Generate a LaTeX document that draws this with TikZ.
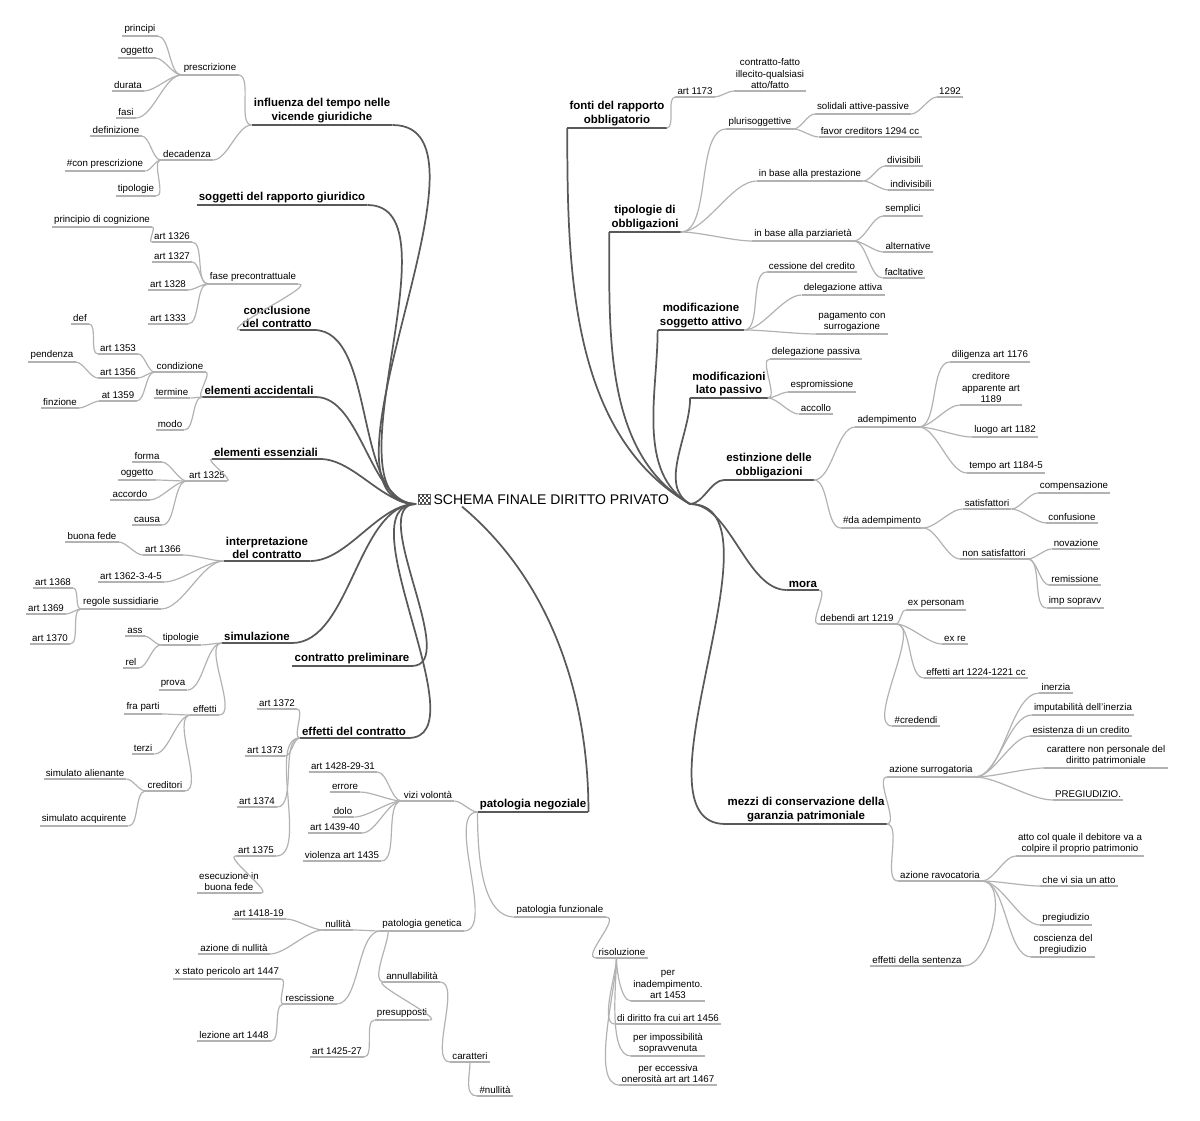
\documentclass[tikz,border=0pt]{standalone}
\usepackage{fontspec}
\setmainfont{Liberation Sans}
\begin{document}
\begin{tikzpicture}[x=0.75pt,y=-0.75pt,
 t/.style={anchor=south,font=\fontsize{7.3}{8.6}\selectfont,inner sep=1.5pt,align=center,
   append after command={(\tikzlastnode.south west) edge[sl] (\tikzlastnode.south east)}},
 m/.style={anchor=south,font=\fontsize{8.6}{10}\selectfont\bfseries,inner sep=1.5pt,align=center,
   append after command={(\tikzlastnode.south west) edge[ml] (\tikzlastnode.south east)}},
 sl/.style={draw=black!30,line width=0.9pt},
 ml/.style={draw=black!65,line width=1.3pt}]
\useasboundingbox (0,0) rectangle (1200,1121);
\newcommand{\Lc}[2]{\draw[sl] (#1.south west) to[out=180,in=0,looseness=0.7] (#2.south east);}
\newcommand{\Rc}[2]{\draw[sl] (#1.south east) to[out=0,in=180,looseness=0.7] (#2.south west);}
\newcommand{\Lm}[1]{\draw[ml] (CL) to[out=180,in=0,looseness=0.8] (#1.south east);}
\newcommand{\Rm}[1]{\draw[ml] (CR) to[out=0,in=180,looseness=0.8] (#1.south west);}
\newcommand{\Ru}[1]{\draw[ml] (CR) to[out=150,in=-90,looseness=0.9] (#1.south west);}
% center
\node[anchor=west,font=\fontsize{10.5}{12}\selectfont,inner sep=1pt] (C) at (432,500) {SCHEMA FINALE DIRITTO PRIVATO};
\coordinate (CL) at (416,504); \coordinate (CR) at (690,504);
\draw[black!60,line width=0.4pt] (418,494) rectangle (430,504);
\foreach \i in {0,1,2}{\foreach \j in {0,1}{
  \fill[black!70] (418+4*\i,494+5*\j) rectangle ++(2,2.5);
  \fill[black!70] (420+4*\i,496.5+5*\j) rectangle ++(2,2.5);}}
% ===== LEFT =====
\node[m] (inf) at (322,125) {influenza del tempo nelle\\vicende giuridiche};
\node[t] (pre) at (210,75) {prescrizione};
\node[t] (pri) at (140,36) {principi};
\node[t] (ogg) at (137,58) {oggetto};
\node[t] (dur) at (128,91) {durata};
\node[t] (fas) at (126,118) {fasi};
\node[t] (dec) at (187,160) {decadenza};
\node[t] (def) at (116,136) {definizione};
\node[t] (cpr) at (105,171) {\#con prescrizione};
\node[t] (tip) at (136,196) {tipologie};
\Lc{inf}{pre}\Lc{inf}{dec}\Lc{pre}{pri}\Lc{pre}{ogg}\Lc{pre}{dur}\Lc{pre}{fas}
\Lc{dec}{def}\Lc{dec}{cpr}\Lc{dec}{tip}
\node[m] (sog) at (282,205) {soggetti del rapporto giuridico};
\node[m] (con) at (277,330) {conclusione\\del contratto};
\node[t] (fpc) at (253,284) {fase precontrattuale};
\node[t] (a26) at (172,242) {art 1326};
\node[t] (pdc) at (102,227) {principio di cognizione};
\node[t] (a27) at (172,262) {art 1327};
\node[t] (a28) at (168,290) {art 1328};
\node[t] (a33) at (168,324) {art 1333};
\Lc{con}{fpc}\Lc{fpc}{a26}\Lc{fpc}{a27}\Lc{fpc}{a28}\Lc{fpc}{a33}\Lc{a26}{pdc}
\node[m] (eac) at (259,397) {elementi accidentali};
\node[t] (cnd) at (180,372) {condizione};
\node[t] (ter) at (172,398) {termine};
\node[t] (mod) at (170,430) {modo};
\node[t] (a53) at (118,354) {art 1353};
\node[t] (dfx) at (80,324) {def};
\node[t] (a56) at (118,378) {art 1356};
\node[t] (pen) at (52,362) {pendenza};
\node[t] (a59) at (118,401) {at 1359};
\node[t] (fin) at (60,408) {finzione};
\Lc{eac}{cnd}\Lc{eac}{ter}\Lc{eac}{mod}\Lc{cnd}{a53}\Lc{cnd}{a56}\Lc{cnd}{a59}
\Lc{a53}{dfx}\Lc{a56}{pen}\Lc{a59}{fin}
\node[m] (ees) at (266,459) {elementi essenziali};
\node[t] (a25) at (207,481) {art 1325};
\node[t] (for) at (147,462) {forma};
\node[t] (og2) at (137,480) {oggetto};
\node[t] (acc) at (130,500) {accordo};
\node[t] (cau) at (147,525) {causa};
\Lc{ees}{a25}\Lc{a25}{for}\Lc{a25}{og2}\Lc{a25}{acc}\Lc{a25}{cau}
\node[m] (int) at (267,561) {interpretazione\\del contratto};
\node[t] (a66) at (163,555) {art 1366};
\node[t] (bfe) at (92,542) {buona fede};
\node[t] (a62) at (131,582) {art 1362-3-4-5};
\node[t] (rso) at (121,609) {regole sussidiarie};
\node[t] (a68) at (53,588) {art 1368};
\node[t] (a69) at (46,614) {art 1369};
\node[t] (a70) at (50,644) {art 1370};
\Lc{int}{a66}\Lc{int}{a62}\Lc{int}{rso}\Lc{a66}{bfe}\Lc{rso}{a68}\Lc{rso}{a69}\Lc{rso}{a70}
\node[m] (sim) at (257,643) {simulazione};
\node[t] (tp2) at (181,645) {tipologie};
\node[t] (ass) at (135,636) {ass};
\node[t] (rel) at (131,668) {rel};
\node[t] (pro) at (173,690) {prova};
\node[t] (eff) at (205,715) {effetti};
\node[t] (fpa) at (143,714) {fra parti};
\node[t] (ter2) at (143,754) {terzi};
\node[t] (cre) at (165,791) {creditori};
\node[t] (sal) at (85,779) {simulato alienante};
\node[t] (saq) at (84,826) {simulato acquirente};
\Lc{sim}{tp2}\Lc{sim}{pro}\Lc{sim}{eff}\Lc{tp2}{ass}\Lc{tp2}{rel}
\Lc{eff}{fpa}\Lc{eff}{ter2}\Lc{eff}{cre}\Lc{cre}{sal}\Lc{cre}{saq}
\node[m] (cpl) at (352,666) {contratto preliminare};
\node[m] (edc) at (354,738) {effetti del contratto};
\node[t] (a72) at (277,709) {art 1372};
\node[t] (a73) at (265,756) {art 1373};
\node[t] (a74) at (257,807) {art 1374};
\node[t] (a75) at (256,856) {art 1375};
\node[t] (ebf) at (229,893) {esecuzione in\\buona fede};
\Lc{edc}{a72}\Lc{edc}{a73}\Lc{edc}{a74}\Lc{edc}{a75}\Lc{a75}{ebf}
\Lm{inf}\Lm{sog}\Lm{con}\Lm{eac}\Lm{ees}\Lm{int}\Lm{sim}\Lm{cpl}\Lm{edc}
% patologia
\node[m] (pat) at (533,812) {patologia negoziale};
\draw[ml] (C.south west) ++(30,0) to[out=-40,in=90,looseness=0.9] (pat.south east);
\node[t] (viz) at (428,801) {vizi volontà};
\node[t] (a28b) at (343,772) {art 1428-29-31};
\node[t] (err) at (345,792) {errore};
\node[t] (dol) at (343,817) {dolo};
\node[t] (a39) at (335,833) {art 1439-40};
\node[t] (vio) at (342,861) {violenza art 1435};
\Lc{pat}{viz}\Lc{viz}{a28b}\Lc{viz}{err}\Lc{viz}{dol}\Lc{viz}{a39}\Lc{viz}{vio}
\node[t] (pge) at (422,931) {patologia genetica};
\node[t] (nul) at (338,930) {nullità};
\node[t] (a18) at (259,919) {art 1418-19};
\node[t] (adn) at (234,954) {azione di nullità};
\node[t] (ann) at (412,982) {annullabilità};
\node[t] (res) at (310,1004) {rescissione};
\node[t] (xsp) at (227,979) {x stato pericolo art 1447};
\node[t] (lez) at (234,1041) {lezione art 1448};
\node[t] (psp) at (402,1020) {presupposti};
\node[t] (a25b) at (337,1057) {art 1425-27};
\node[t] (car) at (470,1062) {caratteri};
\node[t] (hnu) at (495,1096) {\#nullità};
\Lc{pat}{pge}\Lc{pge}{nul}\Lc{nul}{a18}\Lc{nul}{adn}\Lc{pge}{res}\Lc{res}{xsp}\Lc{res}{lez}
\draw[sl] (pge.south west) ++(8,0) to[out=-90,in=180,looseness=0.7] (ann.south west);
\Lc{ann}{psp}\Lc{psp}{a25b}\draw[sl] (ann.south east) to[out=0,in=180,looseness=0.7] (car.south west);
\draw[sl] (car.south) to[out=-90,in=180] (hnu.south west);
\node[t] (pfu) at (560,917) {patologia funzionale};
\draw[sl] (pat.south west) to[out=-90,in=180,looseness=0.8] (pfu.south west);
\node[t] (ris) at (622,958) {risoluzione};
\draw[sl] (pfu.south east) to[out=0,in=180] (ris.south west);
\node[t] (pin) at (668,1001) {per\\inadempimento.\\art 1453};
\node[t] (ddf) at (668,1024) {di diritto fra cui art 1456};
\node[t] (pim) at (668,1056) {per impossibilità\\sopravvenuta};
\node[t] (peo) at (668,1085) {per eccessiva\\onerosità art art 1467};
\foreach \n in {pin,ddf,pim,peo}{\draw[sl] (ris.south west) ++(20,0) to[out=-90,in=180,looseness=0.6] (\n.south west);}
% ===== RIGHT =====
\node[m] (fon) at (617,128) {fonti del rapporto\\obbligatorio};
\node[t] (a73b) at (695,97) {art 1173};
\node[t] (cfa) at (770,91) {contratto-fatto\\illecito-qualsiasi\\atto/fatto};
\Rc{fon}{a73b}\Rc{a73b}{cfa}
\node[m] (tob) at (645,232) {tipologie di\\obbligazioni};
\node[t] (pls) at (760,129) {plurisoggettive};
\node[t] (sap) at (863,114) {solidali attive-passive};
\node[t] (n92) at (950,97) {1292};
\node[t] (fav) at (870,137) {favor creditors 1294 cc};
\node[t] (ibp) at (810,181) {in base alla prestazione};
\node[t] (div) at (904,166) {divisibili};
\node[t] (ind) at (911,190) {indivisibili};
\node[t] (ibz) at (803,241) {in base alla parziarietà};
\node[t] (sem) at (903,216) {semplici};
\node[t] (alt) at (908,252) {alternative};
\node[t] (fac) at (904,278) {facltative};
\Rc{tob}{pls}\Rc{pls}{sap}\Rc{sap}{n92}\Rc{pls}{fav}\Rc{tob}{ibp}\Rc{ibp}{div}\Rc{ibp}{ind}
\Rc{tob}{ibz}\Rc{ibz}{sem}\Rc{ibz}{alt}\Rc{ibz}{fac}
\node[m] (msa) at (701,330) {modificazione\\soggetto attivo};
\node[t] (cdc) at (812,272) {cessione del credito};
\node[t] (dea) at (843,295) {delegazione attiva};
\node[t] (pcs) at (852,334) {pagamento con\\surrogazione};
\Rc{msa}{cdc}\Rc{msa}{dea}\Rc{msa}{pcs}
\node[m] (mlp) at (729,398) {modificazioni\\lato passivo};
\node[t] (dep) at (816,359) {delegazione passiva};
\node[t] (esp) at (822,392) {espromissione};
\node[t] (acl) at (816,414) {accollo};
\Rc{mlp}{dep}\Rc{mlp}{esp}\Rc{mlp}{acl}
\node[m] (est) at (769,480) {estinzione delle\\obbligazioni};
\node[t] (ade) at (887,427) {adempimento};
\node[t] (dil) at (990,362) {diligenza art 1176};
\node[t] (cap) at (991,405) {creditore\\apparente art\\1189};
\node[t] (lug) at (1005,437) {luogo art 1182};
\node[t] (tem) at (1006,473) {tempo art 1184-5};
\node[t] (dad) at (882,528) {\#da adempimento};
\node[t] (sat) at (987,509) {satisfattori};
\node[t] (cmp) at (1074,493) {compensazione};
\node[t] (cnf) at (1072,523) {confusione};
\node[t] (nsa) at (994,559) {non satisfattori};
\node[t] (nov) at (1076,549) {novazione};
\node[t] (rem) at (1075,585) {remissione};
\node[t] (imp) at (1075,608) {imp sopravv};
\Rc{est}{ade}\Rc{ade}{dil}\Rc{ade}{cap}\Rc{ade}{lug}\Rc{ade}{tem}
\Rc{est}{dad}\Rc{dad}{sat}\Rc{sat}{cmp}\Rc{sat}{cnf}\Rc{dad}{nsa}\Rc{nsa}{nov}\Rc{nsa}{rem}\Rc{nsa}{imp}
\node[m] (mor) at (803,590) {mora};
\node[t] (deb) at (857,624) {debendi art 1219};
\node[t] (exp) at (936,610) {ex personam};
\node[t] (exr) at (955,644) {ex re};
\node[t] (efa) at (976,678) {effetti art 1224-1221 cc};
\node[t] (cred) at (916,726) {\#credendi};
\Rc{mor}{deb}\Rc{deb}{exp}\Rc{deb}{exr}\Rc{deb}{efa}\Rc{deb}{cred}
\node[m] (mcg) at (806,824) {mezzi di conservazione della\\garanzia patrimoniale};
\node[t] (asu) at (931,777) {azione surrogatoria};
\node[t] (ine) at (1056,693) {inerzia};
\node[t] (imi) at (1083,715) {imputabilità dell'inerzia};
\node[t] (edu) at (1081,736) {esistenza di un credito};
\node[t] (cnp) at (1106,768) {carattere non personale del\\diritto patrimoniale};
\node[t] (PRE) at (1088,800) {PREGIUDIZIO.};
\Rc{mcg}{asu}\Rc{asu}{ine}\Rc{asu}{imi}\Rc{asu}{edu}\Rc{asu}{cnp}\Rc{asu}{PRE}
\node[t] (arv) at (940,881) {azione ravocatoria};
\node[t] (acq) at (1080,856) {atto col quale il debitore va a\\colpire il proprio patrimonio};
\node[t] (cvs) at (1079,886) {che vi sia un atto};
\node[t] (prg) at (1066,925) {pregiudizio};
\node[t] (cop) at (1063,957) {coscienza del\\pregiudizio};
\node[t] (eds) at (917,966) {effetti della sentenza};
\Rc{mcg}{arv}\Rc{arv}{acq}\Rc{arv}{cvs}\Rc{arv}{prg}\Rc{arv}{cop}
\draw[sl] (arv.south east) to[out=0,in=0,looseness=0.8] (eds.south east);
\Ru{fon}\Ru{tob}\Ru{msa}\Ru{mlp}\Rm{est}\Rm{mor}\Rm{mcg}
\end{tikzpicture}
\end{document}
